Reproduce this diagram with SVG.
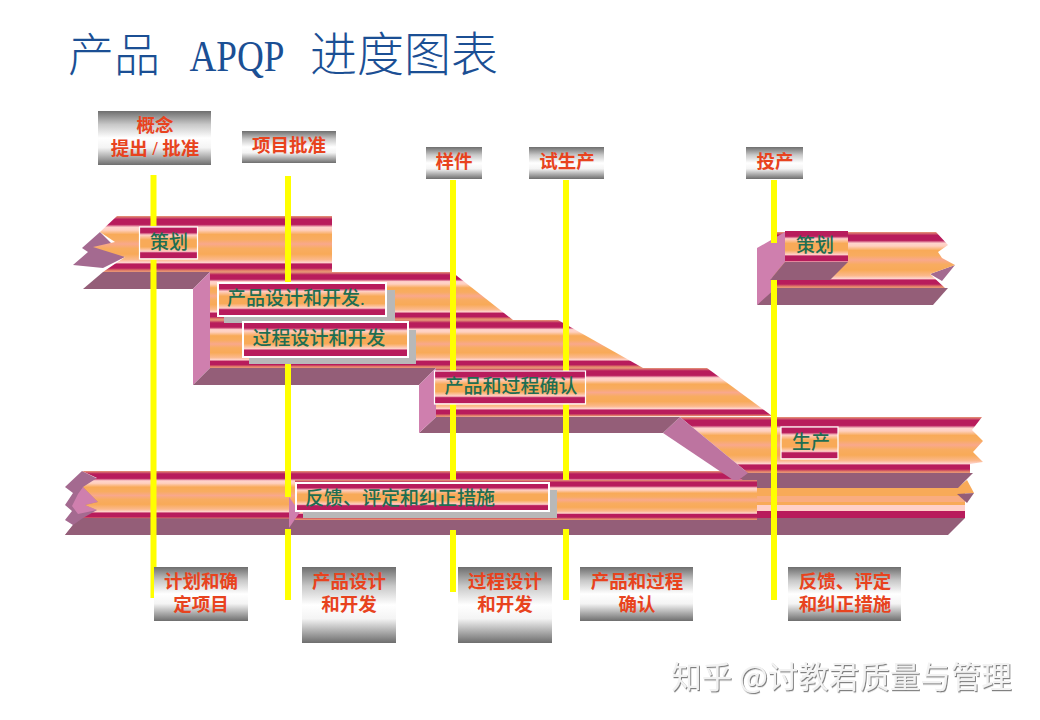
<svg xmlns="http://www.w3.org/2000/svg" width="1040" height="720" viewBox="0 0 1040 720">
<defs>
<linearGradient id="stripe" x1="0" y1="0" x2="0" y2="1">
<stop offset="0" stop-color="#e89a78"/><stop offset=".06" stop-color="#b81c5c"/><stop offset=".15" stop-color="#b81c5c"/><stop offset=".2" stop-color="#ffd4cc"/><stop offset=".25" stop-color="#ffd0c0"/><stop offset=".33" stop-color="#f8aa58"/><stop offset=".42" stop-color="#f8ac60"/><stop offset=".5" stop-color="#f9a88c"/><stop offset=".58" stop-color="#f8ac60"/><stop offset=".68" stop-color="#f8aa58"/><stop offset=".78" stop-color="#fbb88c"/><stop offset=".83" stop-color="#ffd4cc"/><stop offset=".86" stop-color="#b81c5c"/><stop offset=".93" stop-color="#b81c5c"/><stop offset=".97" stop-color="#e07a68"/><stop offset="1" stop-color="#e89a78"/>
</linearGradient>
<linearGradient id="tag" x1="0" y1="0" x2="0" y2="1">
<stop offset="0" stop-color="#b81c5c"/><stop offset=".17" stop-color="#b81c5c"/><stop offset=".25" stop-color="#ffd0c8"/><stop offset=".4" stop-color="#f8aa58"/><stop offset=".62" stop-color="#f8aa58"/><stop offset=".76" stop-color="#ffd0c8"/><stop offset=".81" stop-color="#b81c5c"/><stop offset=".96" stop-color="#b81c5c"/><stop offset="1" stop-color="#ffd0c8"/>
</linearGradient>
<linearGradient id="metal" x1="0" y1="0" x2="0" y2="1">
<stop offset="0" stop-color="#6e6e6e"/><stop offset=".25" stop-color="#c8c8c8"/><stop offset=".5" stop-color="#ffffff"/><stop offset=".68" stop-color="#f4f4f4"/><stop offset="1" stop-color="#6e6e6e"/>
</linearGradient>
<filter id="emboss" x="-5%" y="-20%" width="110%" height="140%"><feDropShadow dx="1" dy="1.2" stdDeviation=".5" flood-color="#808080"/></filter>
</defs>
<style>
text{font-family:"Liberation Serif","Noto Sans CJK SC",serif;text-anchor:middle}
.red{fill:#e8431e;font-size:18.500px;font-weight:700}
.grn{fill:#1f6e52;font-size:19px;font-weight:500}
.band{fill:url(#stripe)}
.dark{fill:#945e78}
.pink{fill:#cf7fae}
.mauve{fill:#a46a90}
.tag{fill:url(#tag);stroke:#fff;stroke-width:2}
.thin{stroke-width:1.2}
.gray{fill:#b8b8b8}
.metal{fill:url(#metal)}
.ylw{stroke:#ffff00;stroke-width:6;fill:none}
</style>
<rect width="1040" height="720" fill="#fff"/>
<g id="title" fill="#1b4f94">
<text x="114" y="71" font-size="46" style="font-family:'Noto Sans CJK SC',sans-serif;font-weight:300">产品</text>
<text x="237" y="71" font-size="44" textLength="95" lengthAdjust="spacingAndGlyphs">APQP</text>
<text x="404" y="71" font-size="47" style="font-family:'Noto Sans CJK SC',sans-serif;font-weight:300">进度图表</text>
</g>
<g id="bands">
<g id="band-planning-left">
<polygon class="mauve" points="100,232 125,257 103,268 73,265 88,252 82,248"/>
<polygon class="dark" points="103,272 210,272 193,289 83,289"/>
<polygon class="band" points="117,216 332,216 332,272 103,272 125,257 93,247 115,242 100,232"/>
</g>
<g id="band-feedback-base">
<polygon class="mauve" points="82,471 100,480 98,525 65,535 73,525 65,520 72,511 65,505 73,493 65,487"/>
<polygon class="pink" points="83,487 98,502 85,505 97,510 78,514 72,506 78,494"/>
<polygon class="dark" points="83,518 965,518 948,535 65,535 73,525"/>
<polygon class="band" points="82,471 757,471 757,520 83,518 97,510 85,505 98,502 83,487 97,478"/>
<rect x="757" y="488" width="208" height="30" fill="#f8aa58"/>
<rect x="757" y="496" width="208" height="6" fill="#f9ac80"/>
<rect x="757" y="505" width="208" height="6" fill="#ffd0c8"/>
<rect x="757" y="511" width="208" height="7" fill="#b81c5c"/>
<polygon fill="#f8aa58" points="957,488 967,480 974,493 957,494"/>
<polygon class="dark" points="957,494 974,493 967,503"/>
</g>
<g id="band-production">
<polygon class="dark" points="735,473 973,473 958,488 757,488 745,482"/>
<polygon class="band" points="680,417 982,417 972,430 983,441 973,452 983,462 970,464 970,473 748,473"/>
<polygon fill="#bd74a0" points="680,417 663,433 736,482 748,473"/>
</g>
<polygon class="band" id="band-feedback-over" points="295,480 757,480 757,520 295,520"/>
<g id="band-design">
<polygon class="pink" points="193,289 210,272 210,368 193,385"/>
<polygon class="dark" points="193,385 210,368 436,368 419,385"/>
<polygon class="band" points="210,272 452,272 513,320 210,320"/>
<polygon class="band" points="210,320 558,320 643,368 210,368"/>
</g>
<g id="band-validation">
<polygon class="dark" points="419,433 436,417 680,417 663,433"/>
<polygon class="pink" points="419,385 436,368 436,417 419,433"/>
<polygon class="band" points="436,368 707,368 772,416 436,417"/>
</g>
<g id="band-planning-right">
<polygon class="mauve" points="930,274 955,265 942,281"/>
<polygon class="dark" points="757,305 770,288 948,288 933,305"/>
<polygon class="band" points="773,232 936,232 948,245 938,252 942,258 955,265 930,274 945,288 770,288"/>
<polygon class="pink" points="757,248 785,232 785,262 770,280 776,288 757,305"/>
<polygon class="dark" points="770,280 785,262 848,262 830,280"/>
</g>
</g>
<g id="connectors" class="ylw">
<path d="M153.500 175V226M153.500 259V598"/>
<path d="M288 176V282M288 363V497M288 529V600"/>
<path d="M453 180V371M453 404V480M453 530V592"/>
<path d="M566 180V371M566 404V480M566 529V600"/>
<path d="M774 180V243M774 280V600"/>
</g>
<polygon id="feedback-notch" class="pink" points="289,497 300,512 289,528"/>
<g id="tag-planning-left"><rect class="tag thin" x="139.500" y="227" width="58" height="32"/><text class="grn" x="169" y="249">策划</text></g>
<g id="tag-product"><rect class="gray" x="224" y="290" width="171" height="33"/><rect class="tag" x="218" y="283" width="168" height="33"/><text class="grn" x="296" y="305">产品设计和开发.</text></g>
<g id="tag-process"><rect class="gray" x="249" y="330" width="167" height="34"/><rect class="tag" x="243" y="322" width="165" height="35"/><text class="grn" x="319" y="345">过程设计和开发</text></g>
<g id="tag-validation"><rect class="tag thin" x="434.500" y="371" width="151" height="33"/><text class="grn" x="511" y="393">产品和过程确认</text></g>
<g id="tag-production"><rect class="tag thin" x="781" y="427" width="57" height="32"/><text class="grn" x="811" y="449">生产</text></g>
<g id="tag-planning-right"><rect fill="url(#tag)" x="785" y="231" width="63" height="31"/><text class="grn" x="815" y="252">策划</text></g>
<g id="tag-feedback"><rect class="gray" x="303" y="490" width="254" height="28"/><rect class="tag" x="296" y="483" width="253" height="28"/><text class="grn" x="400" y="505">反馈、评定和纠正措施</text></g>
<g id="gate-concept"><rect class="metal" x="98" y="111" width="113" height="54"/><text class="red" x="155" y="132">概念</text><text class="red" x="155" y="155">提出 / 批准</text></g>
<g id="gate-approval"><rect class="metal" x="242" y="131" width="94" height="32"/><text class="red" x="289" y="152">项目批准</text></g>
<g id="gate-sample"><rect class="metal" x="426" y="147" width="56" height="32"/><text class="red" x="454" y="168">样件</text></g>
<g id="gate-pilot"><rect class="metal" x="529" y="147" width="75" height="32"/><text class="red" x="567" y="168">试生产</text></g>
<g id="gate-launch"><rect class="metal" x="746" y="147" width="57" height="32"/><text class="red" x="775" y="168">投产</text></g>
<g id="phase-plan"><rect class="metal" x="154" y="567" width="94" height="54"/><text class="red" x="201" y="588">计划和确</text><text class="red" x="201" y="611">定项目</text></g>
<g id="phase-product"><rect class="metal" x="302" y="567" width="94" height="76"/><text class="red" x="349" y="588">产品设计</text><text class="red" x="349" y="611">和开发</text></g>
<g id="phase-process"><rect class="metal" x="458" y="567" width="94" height="76"/><text class="red" x="505" y="588">过程设计</text><text class="red" x="505" y="611">和开发</text></g>
<g id="phase-validation"><rect class="metal" x="580" y="567" width="113" height="54"/><text class="red" x="637" y="588">产品和过程</text><text class="red" x="637" y="611">确认</text></g>
<g id="phase-feedback"><rect class="metal" x="788" y="567" width="113" height="54"/><text class="red" x="845" y="588">反馈、评定</text><text class="red" x="845" y="611">和纠正措施</text></g>
<g id="watermark" filter="url(#emboss)"><text x="841.500" y="688" font-size="30.500" fill="#f2f2f2" style="font-family:'Noto Sans CJK SC',sans-serif">知乎 @讨教君质量与管理</text></g>
</svg>
